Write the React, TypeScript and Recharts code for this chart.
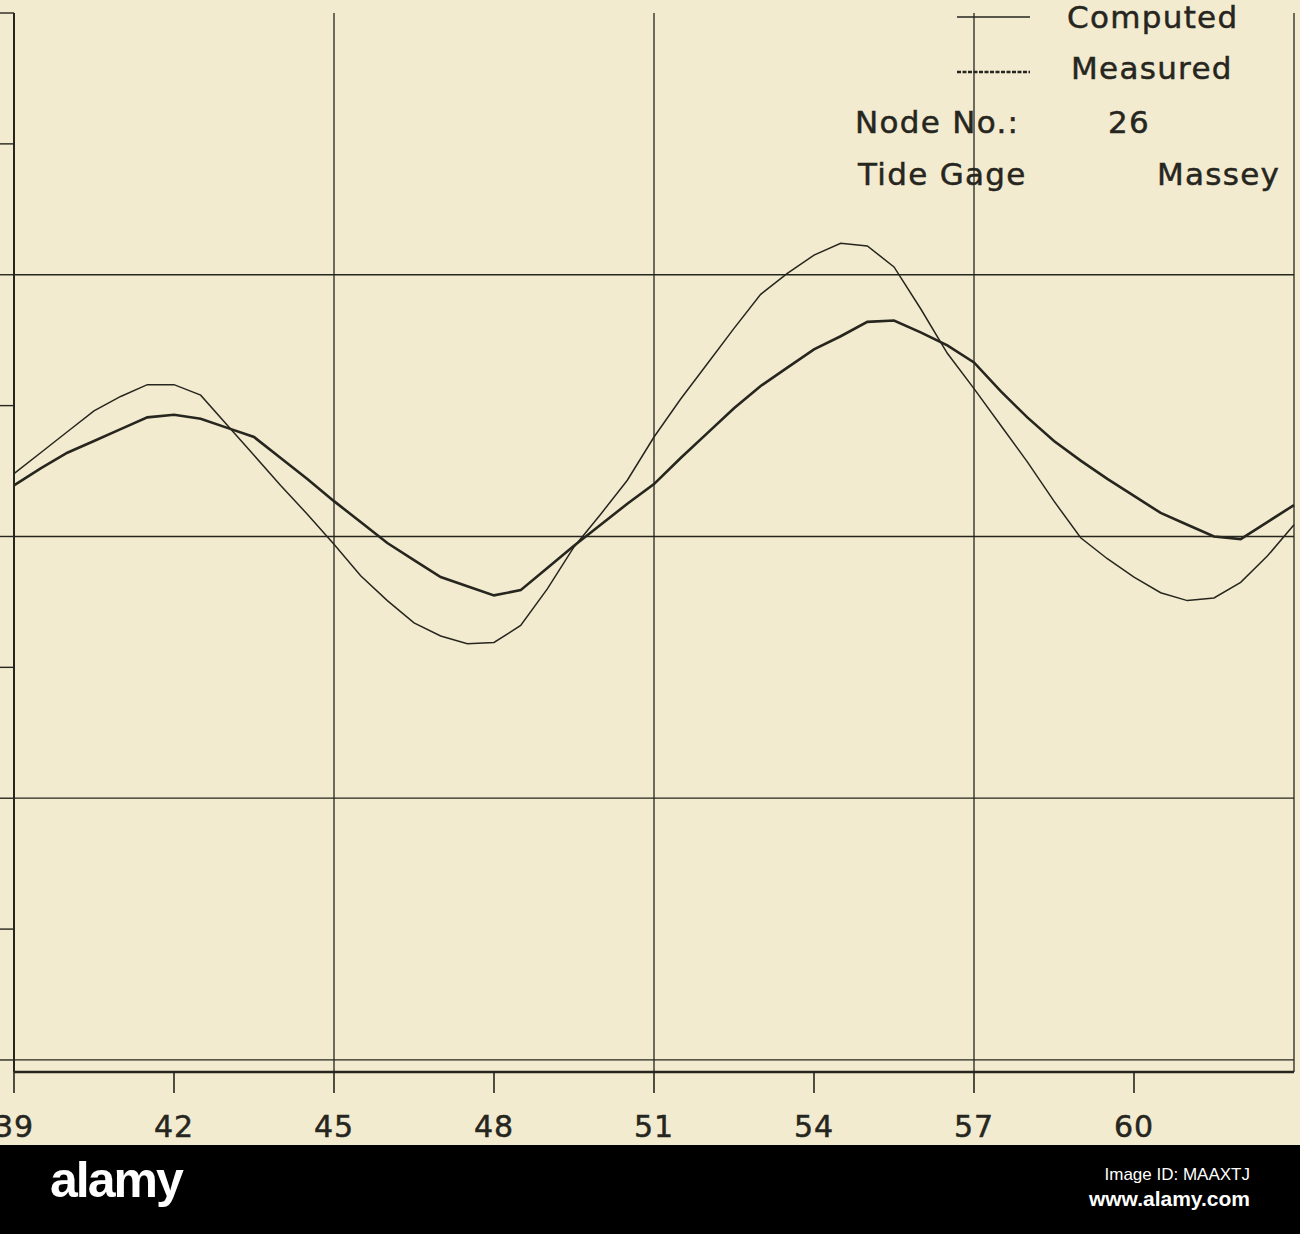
import React from 'react';
import { LineChart, Line, XAxis, YAxis, ReferenceLine, Customized } from 'recharts';

const hours = [
  39, 39.5, 40, 40.5, 41, 41.5, 42, 42.5, 43, 43.5, 44, 44.5, 45, 45.5, 46, 46.5,
  47, 47.5, 48, 48.5, 49, 49.5, 50, 50.5, 51, 51.5, 52, 52.5, 53, 53.5, 54, 54.5,
  55, 55.5, 56, 56.5, 57, 57.5, 58, 58.5, 59, 59.5, 60, 60.5, 61, 61.5, 62, 62.5, 63,
];

const computed = [
  0.48, 0.64, 0.8, 0.96, 1.07, 1.16, 1.16, 1.08, 0.85, 0.62, 0.39, 0.17, -0.06, -0.3, -0.49, -0.66,
  -0.76, -0.82, -0.81, -0.68, -0.4, -0.08, 0.17, 0.43, 0.76, 1.05, 1.32, 1.59, 1.85, 2.01, 2.15, 2.24,
  2.22, 2.06, 1.74, 1.4, 1.13, 0.85, 0.57, 0.27, -0.01, -0.17, -0.31, -0.43, -0.49, -0.47, -0.35, -0.15, 0.09,
];

const measured = [
  0.39, 0.52, 0.64, 0.73, 0.82, 0.91, 0.93, 0.9, 0.83, 0.76, 0.6, 0.44, 0.27, 0.11, -0.05, -0.18,
  -0.31, -0.38, -0.45, -0.41, -0.24, -0.07, 0.09, 0.25, 0.4, 0.6, 0.79, 0.98, 1.15, 1.29, 1.43, 1.53,
  1.64, 1.65, 1.56, 1.46, 1.33, 1.11, 0.91, 0.73, 0.58, 0.44, 0.31, 0.18, 0.09, 0.0, -0.02, 0.11, 0.24,
];

const xTicks = [39, 42, 45, 48, 51, 54, 57, 60];
const yTicks = [-4, -3, -2, -1, 0, 1, 2, 3, 4];
const hGrid = [-4, -2, 0, 2];
const vGrid = [45, 51, 57, 63];

const legendItems = ['Computed', 'Measured'];
const nodeLabel = 'Node No.:';
const nodeValue = '26';
const gageLabel = 'Tide Gage';
const gageValue = 'Massey';

const data = hours.map((t, i) => ({ t, computed: computed[i], measured: measured[i] }));

const INK = '#26261f';
const PAPER = '#f3ebcf';
const FONT = '"DejaVu Sans", sans-serif';

const LegendBlock = () => (
  <g
    fontFamily={FONT}
    fontSize={31}
    fill={INK}
    stroke={INK}
    strokeWidth={0.5}
    letterSpacing={1.3}
  >
    <line x1={957} x2={1030} y1={17} y2={17} stroke={INK} strokeWidth={1.5} />
    <text x={1067} y={28}>{legendItems[0]}</text>
    <line x1={957} x2={1030} y1={72} y2={72} stroke={INK} strokeWidth={2.5} strokeDasharray="4 1.5" />
    <text x={1071} y={79}>{legendItems[1]}</text>
    <text x={855} y={133}>{nodeLabel}</text>
    <text x={1108} y={133}>{nodeValue}</text>
    <text x={858} y={185}>{gageLabel}</text>
    <text x={1157} y={185}>{gageValue}</text>
  </g>
);

export default function App() {
  return (
    <div style={{ position: 'absolute', left: 0, top: 0, width: 1300, height: 1234, background: PAPER }}>
      <LineChart
        width={1300}
        height={1145}
        data={data}
        margin={{ top: 13, right: 6, bottom: 0, left: 0 }}
      >
        <XAxis
          dataKey="t"
          type="number"
          domain={[39, 63]}
          ticks={xTicks}
          height={73}
          tickSize={21}
          tickMargin={23}
          axisLine={{ stroke: INK, strokeWidth: 2.5 }}
          tickLine={{ stroke: INK, strokeWidth: 1.6 }}
          tick={{ fill: INK, fontSize: 30, fontFamily: FONT, stroke: INK, strokeWidth: 0.5, letterSpacing: 1 }}
          interval={0}
        />
        <YAxis
          type="number"
          domain={[-4.092, 4]}
          ticks={yTicks}
          width={14}
          tickSize={14}
          allowDataOverflow
          axisLine={{ stroke: INK, strokeWidth: 2 }}
          tickLine={{ stroke: INK, strokeWidth: 1.4 }}
          tick={() => <g />}
        />
        {hGrid.map((v) => (
          <ReferenceLine key={'h' + v} y={v} stroke={INK} strokeWidth={1.3} />
        ))}
        {vGrid.map((v) => (
          <ReferenceLine key={'v' + v} x={v} stroke={INK} strokeWidth={1.3} />
        ))}
        <Line
          type="linear"
          dataKey="computed"
          name="Computed"
          stroke={INK}
          strokeWidth={1.5}
          dot={false}
          isAnimationActive={false}
        />
        <Line
          type="linear"
          dataKey="measured"
          name="Measured"
          stroke={INK}
          strokeWidth={2.6}
          dot={false}
          isAnimationActive={false}
        />
        <Customized component={LegendBlock} />
      </LineChart>
      <div style={{ position: 'absolute', left: 0, top: 1145, width: 1300, height: 89, background: '#000' }}>
        <div
          style={{
            position: 'absolute',
            left: 50,
            top: 6,
            color: '#fff',
            fontFamily: '"Liberation Sans Narrow", "Liberation Sans", sans-serif',
            fontWeight: 'bold',
            fontSize: 50,
            letterSpacing: -2,
          }}
        >
          alamy
        </div>
        <div
          style={{
            position: 'absolute',
            right: 50,
            top: 20,
            color: '#fff',
            fontFamily: '"Liberation Sans Narrow", "Liberation Sans", sans-serif',
            fontSize: 17,
            textAlign: 'right',
          }}
        >
          Image ID: MAAXTJ
        </div>
        <div
          style={{
            position: 'absolute',
            right: 50,
            top: 42,
            color: '#fff',
            fontFamily: '"Liberation Sans Narrow", "Liberation Sans", sans-serif',
            fontSize: 21,
            fontWeight: 'bold',
            textAlign: 'right',
          }}
        >
          www.alamy.com
        </div>
      </div>
    </div>
  );
}
